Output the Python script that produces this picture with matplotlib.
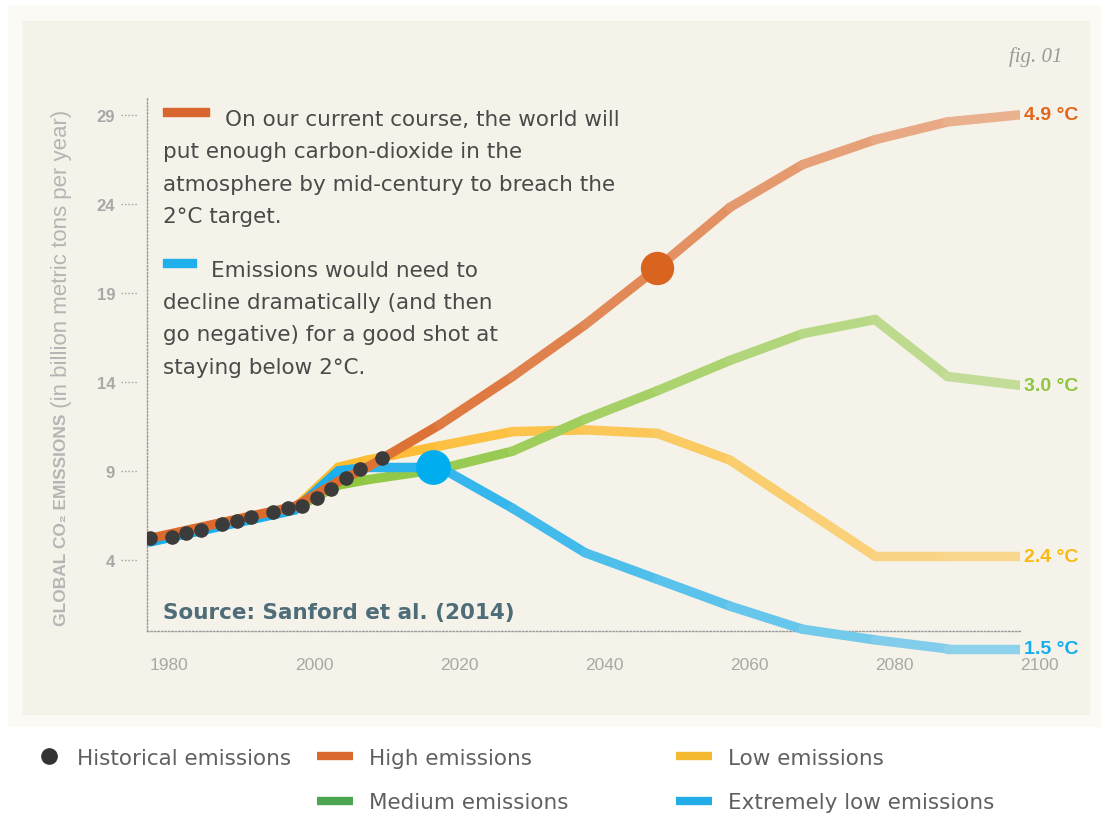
import matplotlib.pyplot as plt
import numpy as np
from matplotlib.collections import LineCollection
from matplotlib.colors import to_rgb
from matplotlib.lines import Line2D
from matplotlib.patches import Rectangle

W, H = 1111, 820

# emissions scenarios, billion metric tons per year
years = [1980, 1990, 2000, 2006, 2010, 2020, 2030, 2040, 2050, 2060, 2070, 2080, 2090, 2100]
high = [5.2, 6.1, 7.0, 8.4, 9.2, 11.6, 14.3, 17.2, 20.4, 23.8, 26.2, 27.6, 28.6, 29.0]
medium = [5.1, 6.0, 6.9, 8.2, 8.5, 9.1, 10.1, 11.9, 13.5, 15.2, 16.7, 17.5, 14.3, 13.8]
low = [5.1, 6.0, 6.9, 9.2, 9.6, 10.4, 11.2, 11.3, 11.1, 9.6, 6.9, 4.2, 4.2, 4.2]
extremely_low = [5.0, 5.9, 6.8, 9.0, 9.2, 9.2, 6.9, 4.4, 2.9, 1.4, 0.1, -0.5, -1.0, -1.0]

hist_years = [1980, 1983, 1985, 1987, 1990, 1992, 1994, 1997, 1999, 2001, 2003, 2005, 2007, 2009, 2012]
hist_values = [5.2, 5.3, 5.5, 5.7, 6.0, 6.2, 6.4, 6.7, 6.9, 7.0, 7.5, 8.0, 8.6, 9.1, 9.7]

# highlighted points
high_dot = (2050, 20.4)
low_dot = (2019, 9.2)

end_labels = ["4.9 °C", "3.0 °C", "2.4 °C", "1.5 °C"]
yticks = [4, 9, 14, 19, 24, 29]
xticks = [1980, 2000, 2020, 2040, 2060, 2080, 2100]

BG = "#F5F2E9"
ORANGE, GREEN, YELLOW, BLUE = "#DC6A2C", "#8DC63F", "#FDBA2C", "#1CAEEC"
GREY = "#a8a8a8"
TEXT = "#4a4a4a"
SANS = ["Liberation Sans", "DejaVu Sans"]

plt.rcParams["font.family"] = ["DejaVu Sans"]


def fx(x):
    return x / W


def fy(y):
    return 1 - y / H


def fade_line(ax, x, y, color, z):
    # line fades towards the end of the century
    x = np.asarray(x, float)
    y = np.asarray(y, float)
    pts = np.column_stack([x, y])
    segs = np.stack([pts[:-1], pts[1:]], axis=1)
    mid = (x[:-1] + x[1:]) / 2
    a = np.clip(1 - 0.55 * (mid - 2005) / 95, 0.45, 1)[:, None]
    cols = a * np.array(to_rgb(color)) + (1 - a) * np.array(to_rgb(BG))
    lc = LineCollection(segs, colors=cols, linewidths=6.8,
                        capstyle="round", joinstyle="round", zorder=z)
    ax.add_collection(lc)


fig = plt.figure(figsize=(W / 100, H / 100), dpi=100)
fig.patch.set_facecolor("white")

# paper panel
fig.add_artist(Rectangle((fx(8), fy(727)), fx(1092), (727 - 7) / H,
                         transform=fig.transFigure, color="#FBFAF5", zorder=-2))
fig.add_artist(Rectangle((fx(23), fy(715)), fx(1066), (715 - 22) / H,
                         transform=fig.transFigure, color=BG, zorder=-1))

ax = fig.add_axes([fx(147), fy(667.6), fx(1020 - 147), (667.6 - 98) / H])
ax.set_facecolor("none")
ax.set_xlim(1979.6, 2100)
ax.set_ylim(-2, 30)

for side in ["top", "right"]:
    ax.spines[side].set_visible(False)
ax.spines["left"].set_bounds(0, 30)
ax.spines["bottom"].set_position(("data", 0))
ax.spines["bottom"].set_bounds(1979.6, 2100)
for side in ["left", "bottom"]:
    ax.spines[side].set_linestyle((0, (1, 1.5)))
    ax.spines[side].set_color("#9a9a9a")
    ax.spines[side].set_linewidth(1)

ax.set_yticks(yticks)
ax.set_yticklabels([str(t) for t in yticks], fontweight="bold")
ax.set_xticks(xticks)
ax.set_xticklabels([str(t) for t in xticks], ha="left")
ax.tick_params(axis="y", length=0, pad=23, labelsize=12, labelcolor=GREY)
ax.tick_params(axis="x", length=0, pad=18.5, labelsize=12.5, labelcolor=GREY)
for lab in ax.get_xticklabels() + ax.get_yticklabels():
    lab.set_fontfamily(SANS)
ax.hlines(yticks, -0.030, -0.0115, transform=ax.get_yaxis_transform(),
          colors="#a0a0a0", linestyles=(0, (1, 1.5)), linewidth=1, clip_on=False)

fade_line(ax, years, low, YELLOW, 2)
fade_line(ax, years, medium, GREEN, 3)
fade_line(ax, years, extremely_low, BLUE, 4)
fade_line(ax, years, high, ORANGE, 5)

ax.plot(hist_years, hist_values, "o", ms=9.5, color="#3b3b3b", zorder=6)
ax.plot(*high_dot, "o", ms=23, color="#D9641F", zorder=7)
ax.plot(*low_dot, "o", ms=24, color="#00ADEF", zorder=7)

ends = [high[-1], medium[-1], low[-1], extremely_low[-1]]
end_colors = ["#E0671C", "#8DC63F", "#FDB913", "#12AEEF"]
for txt, v, c in zip(end_labels, ends, end_colors):
    ax.annotate(txt, (years[-1], v), xytext=(4, 0), textcoords="offset pixels",
                ha="left", va="center", fontsize=14, fontweight="bold",
                color=c, family=SANS, annotation_clip=False)

# y axis title
t1 = fig.text(fx(62), fy(626), "GLOBAL CO₂ EMISSIONS", rotation=90,
              ha="center", va="bottom", fontsize=12.5, fontweight="bold",
              color="#b5b5b5", family=SANS)
ax.annotate(" (in billion metric tons per year)", xy=(0.5, 1), xycoords=t1,
            rotation=90, ha="center", va="bottom", fontsize=16,
            color="#b5b5b5", family=SANS)

fig.text(fx(1036), fy(57), "fig. 01", ha="center", va="center", fontsize=15,
         style="italic", color="#9a9a9a", family=["Liberation Serif", "DejaVu Serif"])

# notes
fig.add_artist(Rectangle((fx(163), fy(117)), fx(46), 8 / H,
                         transform=fig.transFigure, color="#D9662E"))
fig.add_artist(Rectangle((fx(163), fy(268)), fx(33), 8 / H,
                         transform=fig.transFigure, color="#1FAFEA"))
note1 = ["put enough carbon-dioxide in the",
         "atmosphere by mid-century to breach the",
         "2°C target."]
note2 = ["decline dramatically (and then",
         "go negative) for a good shot at",
         "staying below 2°C."]
fig.text(fx(225), fy(126), "On our current course, the world will",
         fontsize=15.5, color=TEXT, va="baseline")
for i, line in enumerate(note1):
    fig.text(fx(163), fy(158.5 + 32.4 * i), line, fontsize=15.5, color=TEXT, va="baseline")
fig.text(fx(211), fy(277), "Emissions would need to",
         fontsize=15.5, color=TEXT, va="baseline")
for i, line in enumerate(note2):
    fig.text(fx(163), fy(309 + 32.4 * i), line, fontsize=15.5, color=TEXT, va="baseline")

fig.text(fx(163), fy(619), "Source: Sanford et al. (2014)", fontsize=15.5,
         fontweight="bold", color="#4E6D79", va="baseline")

# legend below the panel
leg_kw = dict(loc="upper left", frameon=False, fontsize=15.5, labelcolor="#606060",
              borderpad=0, borderaxespad=0, handletextpad=0.75, labelspacing=1.12,
              handlelength=1.67)
fig.legend(handles=[Line2D([], [], ls="none", marker="o", ms=11, color="#333333")],
           labels=["Historical emissions"], bbox_to_anchor=(fx(38), fy(749)),
           **{**leg_kw, "handlelength": 1.0, "handletextpad": 0.8})
fig.legend(handles=[Line2D([], [], lw=6, color="#D9692F", solid_capstyle="butt"),
                    Line2D([], [], lw=6, color="#49A54F", solid_capstyle="butt")],
           labels=["High emissions", "Medium emissions"],
           bbox_to_anchor=(fx(317), fy(749)), **leg_kw)
fig.legend(handles=[Line2D([], [], lw=6, color="#F5B931", solid_capstyle="butt"),
                    Line2D([], [], lw=6, color="#22ADE9", solid_capstyle="butt")],
           labels=["Low emissions", "Extremely low emissions"],
           bbox_to_anchor=(fx(676), fy(749)), **leg_kw)

fig.savefig("out.png", dpi=100)
